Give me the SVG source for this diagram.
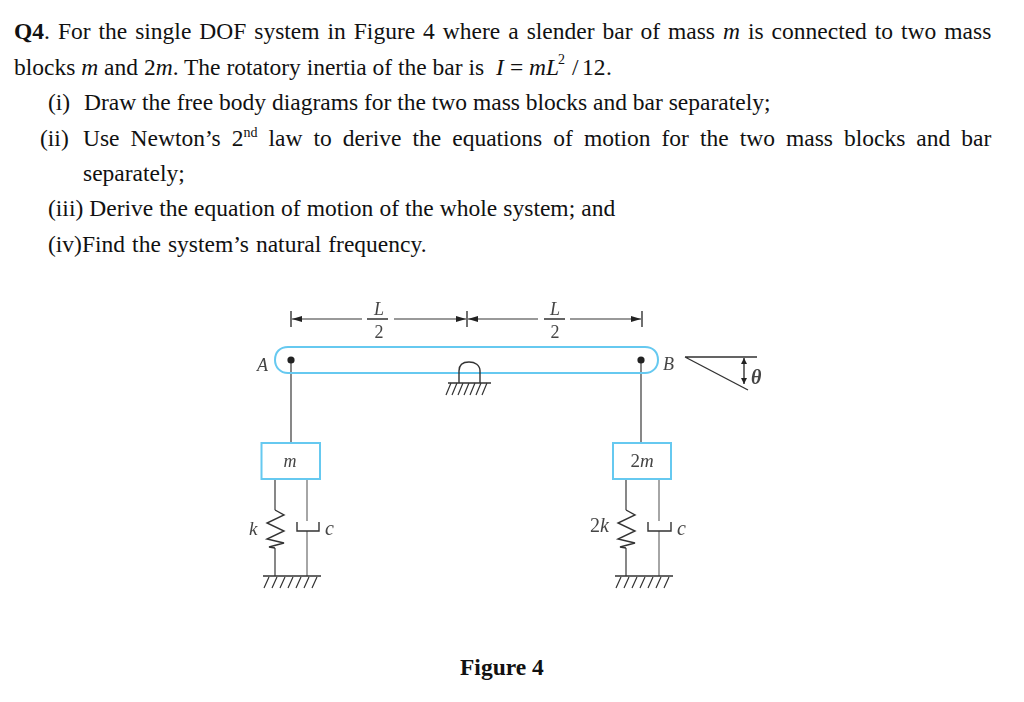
<svg xmlns="http://www.w3.org/2000/svg" width="1024" height="702" viewBox="0 0 1024 702">
<style>
.t{font-family:"Liberation Serif","Times New Roman",serif;font-size:23.5px;fill:#111}
.i{font-style:italic}
.f{font-family:"Liberation Serif","Times New Roman",serif;font-style:italic;fill:#444}
.n{font-style:normal}
.b{fill:none;stroke:#66c9f0;stroke-width:2}
.l{fill:none;stroke:#555;stroke-width:1.4}
.d{fill:none;stroke:#777;stroke-width:1.3}
.k{fill:none;stroke:#333;stroke-width:1.4}
.h{fill:none;stroke:#333;stroke-width:1.2}
</style>
<defs>
<filter id="soft" x="-5%" y="-5%" width="110%" height="110%"><feGaussianBlur stdDeviation="0.4"/></filter>
<marker id="ah" viewBox="0 0 10 6" refX="10" refY="3" markerWidth="10" markerHeight="6" markerUnits="userSpaceOnUse" orient="auto-start-reverse"><path d="M0 0L10 3L0 6Z" fill="#222"/></marker>
<marker id="as" viewBox="0 0 6 6" refX="6" refY="3" markerWidth="6" markerHeight="6" markerUnits="userSpaceOnUse" orient="auto-start-reverse"><path d="M0 0L6 3L0 6Z" fill="#222"/></marker>
<g id="gnd"><path class="k" d="M0 0H58" stroke-width="1.6"/><path class="h" d="M6 1L1 12M14 1L9 12M22 1L17 12M30 1L25 12M38 1L33 12M46 1L41 12M54 1L49 12"/></g>
<path id="spr" class="k" d="M0 0L9 5L-8 13L9 21L-8 29L9 33L-6 37L0 38"/>
</defs>
<g id="question">
<text class="t" x="14" y="39" word-spacing="2.1"><tspan font-weight="bold">Q4</tspan>. For the single DOF system in Figure 4 where a slender bar of mass <tspan class="i">m</tspan> is connected to two mass</text>
<text class="t" x="14" y="75">blocks <tspan class="i">m</tspan> and 2<tspan class="i">m</tspan>. The rotatory inertia of the bar is <tspan class="i" x="496">I</tspan><tspan x="510">=</tspan><tspan class="i" x="529">mL</tspan><tspan font-size="14" x="558" dy="-11">2</tspan><tspan dy="11" x="572">/</tspan><tspan x="582">12</tspan><tspan x="606">.</tspan></text>
<text class="t" x="48" y="110">(i)<tspan x="84">Draw the free body diagrams for the two mass blocks and bar separately;</tspan></text>
<text class="t" x="40" y="146">(ii)<tspan x="83" word-spacing="5.15">Use Newton’s 2</tspan><tspan font-size="14" dy="-9">nd</tspan><tspan dy="9" word-spacing="5.15"> law to derive the equations of motion for the two mass blocks and bar</tspan></text>
<text class="t" x="83" y="181">separately;</text>
<text class="t" x="48" y="216" word-spacing="0.2">(iii) Derive the equation of motion of the whole system; and</text>
<text class="t" x="48" y="252" word-spacing="1.2">(iv)Find the system’s natural frequency.</text>
</g>
<g filter="url(#soft)">
<g id="connectors">
<path class="l" d="M291 360V443"/>
<path class="l" d="M641 360V443"/>
<path class="l" d="M275 479V510" stroke-width="1.8"/>
<path class="l" d="M275 548V576" stroke-width="1.8"/>
<path class="d" d="M307 479V521M307 531V576"/>
<path class="k" d="M297 522V531H319V522"/>
<path class="l" d="M626 479V510" stroke-width="1.8"/>
<path class="l" d="M626 548V576" stroke-width="1.8"/>
<path class="d" d="M659 479V521M659 531V576"/>
<path class="k" d="M648 522V531H671V522"/>
<use href="#spr" x="275" y="510"/>
<use href="#spr" x="626" y="510"/>
<path class="k" d="M291 311V327M467 311V327M642 311V327"/>
<path class="d" d="M362 319H292" marker-end="url(#ah)"/>
<path class="d" d="M394 319H466" marker-end="url(#ah)"/>
<path class="d" d="M538 319H468" marker-end="url(#ah)"/>
<path class="d" d="M570 319H641" marker-end="url(#ah)"/>
<path class="k" d="M367 319H388M544 319H565"/>
</g>
<g id="bar">
<path class="b" d="M288 347H645C653 347 658 352 658 360C658 367 653 373 645 373H288C280 373 275 367 275 360C275 352 280 347 288 347Z"/>
<circle cx="291" cy="360" r="3.6" fill="#222"/>
<circle cx="641" cy="360" r="3.6" fill="#222"/>
<text class="f" x="257" y="371" font-size="18">A</text>
<text class="f" x="663" y="370" font-size="18">B</text>
</g>
<g id="pivot">
<path class="k" d="M459 383V371C459 365 463 362 469 362C475 362 480 365 480 371V383"/>
<path class="k" d="M448 383H491"/>
<path class="h" d="M451 383L446 395M457 383L452 395M463 383L458 395M469 383L464 395M475 383L470 395M481 383L476 395M487 383L482 395"/>
</g>
<g id="dimension-labels">
<text class="f" x="379" y="315" text-anchor="middle" font-size="18">L</text>
<text class="f n" x="379" y="338" text-anchor="middle" font-size="18">2</text>
<text class="f" x="555" y="315" text-anchor="middle" font-size="18">L</text>
<text class="f n" x="555" y="338" text-anchor="middle" font-size="18">2</text>
</g>
<g id="angle">
<path class="k" d="M685 357H757M685 357L748 390"/>
<path class="k" d="M744 358V384" marker-start="url(#as)" marker-end="url(#as)"/>
<text class="f" x="751" y="384" font-size="20" font-weight="bold">θ</text>
</g>
<g id="block-m">
<rect class="b" x="261.500" y="443" width="58.500" height="36"/>
<text class="f" x="290" y="467" font-size="18" text-anchor="middle">m</text>
</g>
<g id="block-2m">
<rect class="b" x="613" y="443" width="58" height="36"/>
<text class="f" x="642" y="467" font-size="19" text-anchor="middle"><tspan class="n">2</tspan>m</text>
</g>
<g id="ground-left"><use href="#gnd" x="263" y="576"/></g>
<g id="ground-right"><use href="#gnd" x="615" y="576"/></g>
<g id="labels-left">
<text class="f" x="249" y="535" font-size="19">k</text>
<text class="f" x="325" y="535" font-size="20">c</text>
</g>
<g id="labels-right">
<text class="f" x="590" y="532" font-size="20"><tspan class="n">2</tspan>k</text>
<text class="f" x="677" y="535" font-size="20">c</text>
</g>
</g>
<g id="caption"><text class="t" x="460" y="675" font-weight="bold">Figure 4</text></g>
</svg>
